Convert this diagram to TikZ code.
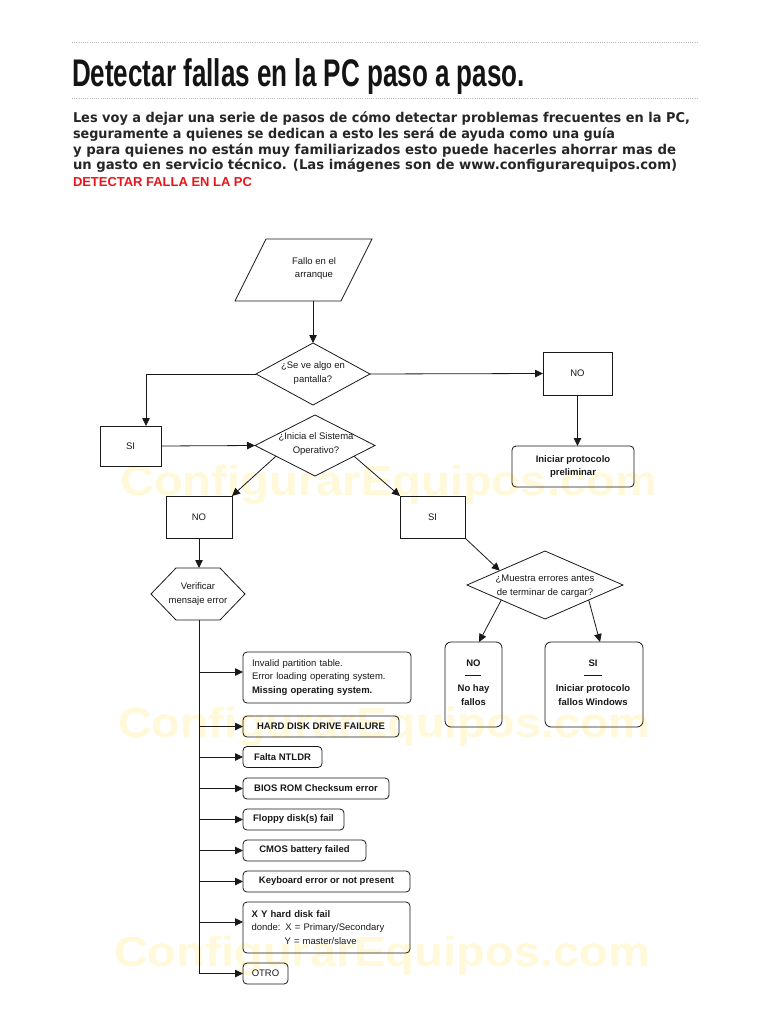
\documentclass[tikz,border=0pt]{standalone}
\usepackage{fontspec}
\setmainfont{Liberation Sans}
\newfontfamily\dvs{DejaVu Sans}
\usepackage{graphicx}
\usetikzlibrary{arrows.meta,calc,shapes.geometric}
\definecolor{wmk}{RGB}{255,249,218}
\definecolor{hdr}{RGB}{38,38,38}
\definecolor{redt}{RGB}{232,22,28}
\definecolor{ink}{RGB}{25,25,25}
\begin{document}
\begin{tikzpicture}[x=1pt,y=-1pt,
  every node/.style={inner sep=0pt, outer sep=0pt, text=ink},
  ftxt/.style={font=\fontsize{9.5}{13.5}\selectfont, align=center},
  fbold/.style={font=\fontsize{9.5}{13.5}\selectfont\bfseries, align=center},
  sbox/.style={draw=ink, line width=0.8pt, ftxt},
  rbox/.style={draw=ink, line width=0.8pt, rounded corners=4pt, ftxt},
  dbox/.style={diamond, draw=ink, line width=0.8pt},
  ebox/.style={rbox, fbold, anchor=west, minimum height=21},
  arr/.style={draw=ink, line width=0.8pt, -{Triangle[length=8pt,width=7.5pt]}},
  ln/.style={draw=ink, line width=0.8pt},
  wmtxt/.style={anchor=base west, text=wmk, font=\fontsize{42}{44}\selectfont\bfseries},
  hline/.style={draw=gray!55, line width=0.8pt, dash pattern=on 1pt off 1.2pt},
  ptxt/.style={anchor=base west, text=hdr, font=\dvs\bfseries\fontsize{13.5}{16}\selectfont}
]
\fill[white] (0,0) rectangle (768,1024);
\useasboundingbox (0,0) rectangle (768,1024);

% watermarks
\node[wmtxt] (wm1) at (120,495) {\resizebox{537pt}{\height}{ConfigurarEquipos.com}};
\node[wmtxt] (wm2) at (118,737) {\resizebox{532pt}{\height}{ConfigurarEquipos.com}};
\node[wmtxt] (wm3) at (114,966) {\resizebox{536pt}{\height}{ConfigurarEquipos.com}};

% header
\draw[hline] (72,42) -- (697,42);
\draw[hline] (72,98) -- (697,98);
\node[anchor=base west, text=black!92, font=\fontsize{38.5}{40}\selectfont\bfseries] (title) at (72,87)
  {\resizebox{453pt}{\height}{Detectar fallas en la PC paso a paso.}};
\node[ptxt] (p1) at (73,123) {\resizebox{617pt}{\height}{Les voy a dejar una serie de pasos de cómo detectar problemas frecuentes en la PC,}};
\node[ptxt] (p2) at (73,139) {\resizebox{542pt}{\height}{seguramente a quienes se dedican a esto les será de ayuda como una guía}};
\node[ptxt] (p3) at (73,155) {\resizebox{603pt}{\height}{y para quienes no están muy familiarizados esto puede hacerles ahorrar mas de}};
\node[ptxt] (p4) at (73,170) {\resizebox{604pt}{\height}{un gasto en servicio técnico. (Las imágenes son de www.configurarequipos.com)}};
\node[anchor=base west, text=redt, font=\fontsize{13}{14}\selectfont\bfseries] (red) at (73,187)
  {\resizebox{179pt}{\height}{DETECTAR FALLA EN LA PC}};

% start parallelogram
\draw[ln] (266,239) -- (372,239) -- (341,301) -- (235,301) -- cycle;
\node[ftxt] (start) at (314,268.5) {Fallo en el\\arranque};
\coordinate (startb) at (313,301);

% diamonds
\node[dbox, minimum width=114, minimum height=62] (d1) at (313,374) {};
\node[ftxt] (d1t) at (313,373) {¿Se ve algo en\\pantalla?};
\node[dbox, minimum width=120, minimum height=61] (d2) at (315,445.5) {};
\node[ftxt] (d2t) at (316,444) {¿Inicia el Sistema\\Operativo?};
\node[dbox, minimum width=156, minimum height=68] (d3) at (545,585) {};
\node[ftxt] (d3t) at (545,586) {¿Muestra errores antes\\de terminar de cargar?};

% boxes
\node[sbox, minimum width=69, minimum height=43] (no1) at (577.5,373.5) {NO};
\node[rbox, fbold, minimum width=122, minimum height=41] (prelim) at (573,466.5) {Iniciar protocolo\\preliminar};
\node[sbox, minimum width=61, minimum height=40] (si1) at (130.5,446) {SI};
\node[sbox, minimum width=66, minimum height=42] (no2) at (199,517) {NO};
\node[sbox, minimum width=65, minimum height=42] (si2) at (432.5,517) {SI};

% hexagon
\node[ftxt, minimum width=94, minimum height=52] (hex) at (198,594) {Verificar\\mensaje error};
\draw[ln] (hex.west) -- ($(hex.north west)+(25,0)$) -- ($(hex.north east)+(-25,0)$) -- (hex.east)
  -- ($(hex.south east)+(-25,0)$) -- ($(hex.south west)+(25,0)$) -- cycle;

% result boxes bottom right
\node[rbox, minimum width=57, minimum height=85, rounded corners=6pt] (no3) at (473.5,684.5) {};
\node[fbold] (no3a) at (473.5,663) {NO};
\draw[ln, line width=0.6pt] (465,675.5) -- (481,675.5);
\node[fbold] (no3b) at (473.5,695) {No hay\\fallos};
\node[rbox, minimum width=98, minimum height=85, rounded corners=6pt] (si3) at (594,684.5) {};
\node[fbold] (si3a) at (593,663) {SI};
\draw[ln, line width=0.6pt] (584,675.5) -- (602,675.5);
\node[fbold] (si3b) at (593,695) {Iniciar protocolo\\fallos Windows};

% error boxes
\node[rbox, anchor=west, minimum width=168, minimum height=51, text width=150, inner xsep=9pt, align=left] (b1) at (243,677.5)
  {Invalid partition table.\\Error loading operating system.\\\textbf{Missing operating system.}};
\node[ebox, minimum width=156] (b2) at (243,726.5) {HARD DISK DRIVE FAILURE};
\node[ebox, minimum width=79] (b3) at (243,757) {Falta NTLDR};
\node[ebox, minimum width=146] (b4) at (243,788.5) {BIOS ROM Checksum error};
\node[ebox, minimum width=101] (b5) at (243,819.5) {Floppy disk(s) fail};
\node[ebox, minimum width=123] (b6) at (243,850.5) {CMOS battery failed};
\node[ebox, minimum width=167] (b7) at (243,881.5) {Keyboard error or not present};
\node[rbox, anchor=west, minimum width=167, minimum height=51, text width=150, inner xsep=8.5pt, align=left] (b8) at (243,927.5)
  {\textbf{X Y hard disk fail}\\donde: X = Primary/Secondary\\\hspace*{33pt}Y = master/slave};
\node[rbox, anchor=west, minimum width=45, minimum height=21] (b9) at (243,973.5) {OTRO};

% connectors
\draw[arr] (startb) -- (d1.north);
\draw[arr] (d1.east) -- (no1.west);
\draw[arr] (d1.west) -| ([xshift=15.5pt]si1.north);
\draw[arr] (no1.south) -- (no1.south |- prelim.north);
\draw[arr] (si1.east) -- (d2.west);
\draw[arr] ($(d2.west)!0.35!(d2.south)$) -- (no2.north east);
\draw[arr] ($(d2.east)!0.35!(d2.south)$) -- (si2.north west);
\draw[arr] (no2.south) -- (no2.south |- hex.north);
\draw[arr] (si2.south east) -- ($(d3.west)!0.42!(d3.north)$);
\draw[arr] ($(d3.west)!0.44!(d3.south)$) -- ([xshift=5.5pt]no3.north);
\draw[arr] ($(d3.east)!0.44!(d3.south)$) -- ([xshift=6pt]si3.north);

\draw[ln] (no2.south |- hex.south) -- (no2.south |- b9.west);
\draw[arr] (no2.south |- 0,672) -- (b1.west |- 0,672);
\foreach \b in {b2,b3,b4,b5,b6,b7,b9}{
  \draw[arr] (no2.south |- \b.west) -- (\b.west);
}
\draw[arr] (no2.south |- 0,922) -- (b8.west |- 0,922);
\end{tikzpicture}
\end{document}
